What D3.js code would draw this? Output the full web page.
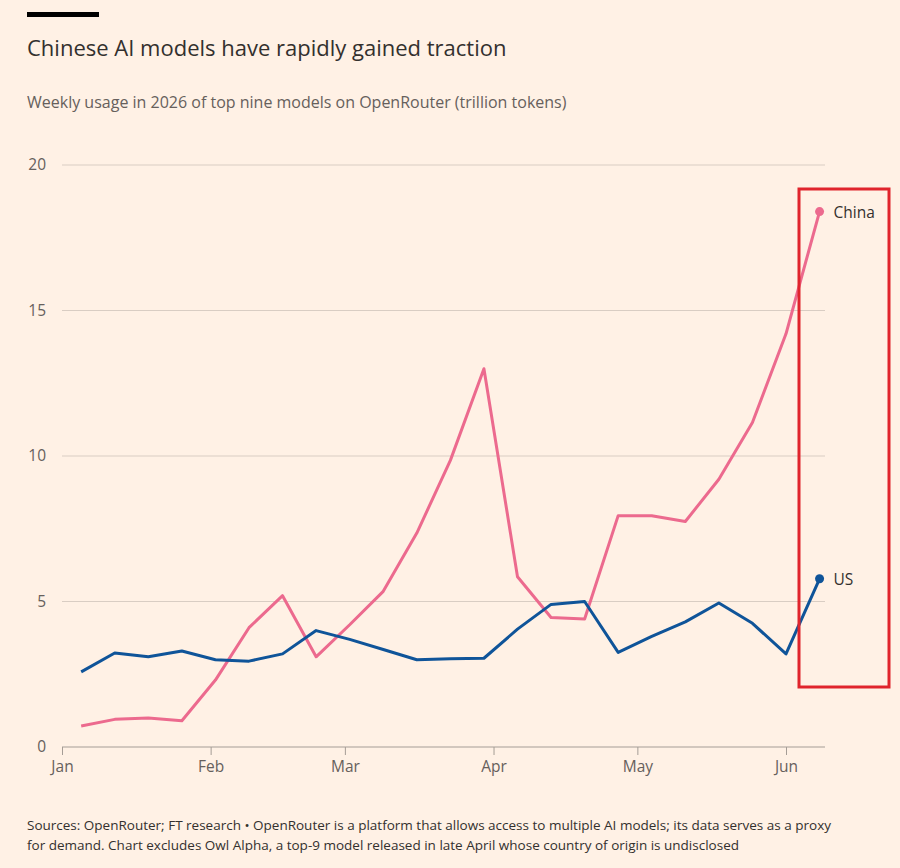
<!DOCTYPE html>
<html><head><meta charset="utf-8">
<script src="https://cdn.jsdelivr.net/npm/d3@7"></script>
<style>
body{margin:0;background:#fff1e5;font-family:"Open Sans",sans-serif}
</style></head>
<body>
<svg id="chart" width="900" height="868"></svg>
<script>
const svg = d3.select('#chart')
const pink = '#ec6a8e'
const blue = '#0f5499'
const textColor = '#33302e'
const muted = '#66605c'

// weekly points from 5 Jan 2026
const weeks = d3.range(23).map(i => d3.timeDay.offset(new Date(2026, 0, 5), i * 7))
const china = [0.72, 0.95, 1.0, 0.9, 2.3, 4.1, 5.2, 3.1, 4.2, 5.35, 7.35, 9.85, 13.0, 5.85, 4.45, 4.4, 7.95, 7.95, 7.75, 9.2, 11.15, 14.2, 18.4]
const us = [2.58, 3.23, 3.1, 3.3, 3.0, 2.95, 3.2, 4.0, 3.7, 3.35, 3.0, 3.03, 3.05, 4.05, 4.9, 5.0, 3.25, 3.8, 4.3, 4.95, 4.25, 3.2, 5.78]
const yTicks = [0, 5, 10, 15, 20]
const monthLabels = ['Jan', 'Feb', 'Mar', 'Apr', 'May', 'Jun']

const x = d3.scaleTime()
  .domain([new Date(2026, 0, 1), new Date(2026, 5, 1)])
  .range([62, 786])
const y = d3.scaleLinear().domain([0, 20]).range([747, 165])

// header
svg.append('rect').attr('x', 27).attr('y', 12).attr('width', 72).attr('height', 5).attr('fill', '#000')
svg.append('text').attr('x', 27).attr('y', 56).text('Chinese AI models have rapidly gained traction')
  .attr('font-size', 22).attr('fill', textColor)
svg.append('text').attr('x', 27).attr('y', 108).text('Weekly usage in 2026 of top nine models on OpenRouter (trillion tokens)')
  .attr('font-size', 16).attr('fill', muted)

// gridlines
svg.selectAll('line.grid').data(yTicks.filter(d => d > 0)).enter().append('line')
  .attr('x1', 62).attr('x2', 825).attr('y1', d => y(d)).attr('y2', d => y(d))
  .attr('stroke', '#d9cdc3').attr('stroke-width', 1)
svg.selectAll('text.ytick').data(yTicks).enter().append('text')
  .attr('x', 46).attr('y', d => y(d) + 5).attr('text-anchor', 'end')
  .attr('font-size', 15.5).attr('fill', muted).text(d => d)

// x axis
const xAxis = d3.axisBottom(x)
  .tickValues(d3.range(6).map(m => new Date(2026, m, 1)))
  .tickFormat((d, i) => monthLabels[i])
  .tickSize(8).tickPadding(6)
const gx = svg.append('g').attr('transform', `translate(0,${y(0)})`).call(xAxis)
gx.select('.domain').attr('d', `M62,0H825`).attr('stroke', '#a59d96')
gx.selectAll('.tick line').attr('stroke', '#a59d96')
gx.selectAll('.tick text').attr('font-size', 15.5).attr('fill', muted).attr('font-family', '"Open Sans",sans-serif')

// lines
const line = d3.line().x((d, i) => x(weeks[i])).y(d => y(d))
const series = [{name: 'China', values: china, color: pink}, {name: 'US', values: us, color: blue}]
series.forEach(s => {
  svg.append('path').attr('d', line(s.values)).attr('fill', 'none')
    .attr('stroke', s.color).attr('stroke-width', 3).attr('stroke-linejoin', 'round')
  const last = s.values.length - 1
  svg.append('circle').attr('cx', x(weeks[last])).attr('cy', y(s.values[last])).attr('r', 4.5).attr('fill', s.color)
  svg.append('text').attr('x', x(weeks[last]) + 14).attr('y', y(s.values[last]) + 6)
    .attr('font-size', 15.5).attr('fill', textColor).text(s.name)
})

// red highlight box
svg.append('rect').attr('x', 799).attr('y', 189).attr('width', 90).attr('height', 498)
  .attr('fill', 'none').attr('stroke', '#e0242c').attr('stroke-width', 3)

// footer
const foot = svg.append('text').attr('font-size', 13.5).attr('fill', textColor)
foot.append('tspan').attr('x', 27).attr('y', 830)
  .text('Sources: OpenRouter; FT research • OpenRouter is a platform that allows access to multiple AI models; its data serves as a proxy')
foot.append('tspan').attr('x', 27).attr('y', 850)
  .text('for demand. Chart excludes Owl Alpha, a top-9 model released in late April whose country of origin is undisclosed')
</script>
</body></html>
